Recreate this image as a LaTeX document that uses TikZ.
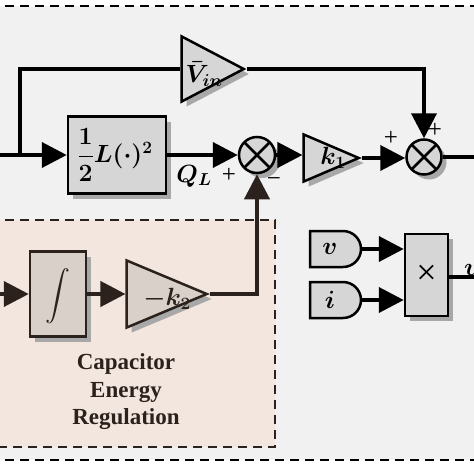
\documentclass[tikz,border=0pt]{standalone}
\usepackage{amsmath}
\usepackage{fontspec}
\setmainfont{Liberation Serif}
\usetikzlibrary{shapes.geometric,arrows.meta,shadows,calc}
\definecolor{bgg}{HTML}{F1F1F1}
\definecolor{peach}{HTML}{F3E6DE}
\definecolor{blkf}{HTML}{D6D6D6}
\definecolor{blkb}{HTML}{D9D0CA}
\definecolor{brn}{HTML}{2B221D}
\definecolor{shd}{HTML}{A8A8A8}
\begin{document}
\begin{tikzpicture}[x=1pt,y=-1pt,
  conn/.style={line width=4pt,-{Triangle[length=25pt,width=25pt]}},
  wire/.style={line width=4pt},
  shad/.style={drop shadow={shadow xshift=5pt,shadow yshift=-5pt,fill=shd,opacity=1}},
  blockbox/.style={draw,line width=2.5pt,fill=blkf,inner sep=0pt,shad},
  tri/.style={isosceles triangle,isosceles triangle stretches,draw,line width=2.5pt,fill=blkf,inner sep=0pt,anchor=apex,shad},
  summer/.style={circle,draw,line width=2.5pt,fill=blkf,minimum size=36pt,inner sep=0pt,shad,
    path picture={\draw[line width=2.5pt] (path picture bounding box.north west) -- (path picture bounding box.south east)
      (path picture bounding box.north east) -- (path picture bounding box.south west);}},
  lab/.style={inner sep=0pt,font=\fontsize{24}{26}\selectfont\boldmath},
  sgn/.style={inner sep=0pt,font=\fontsize{25}{27}\selectfont},
  dash border/.style={line width=2pt,dash pattern=on 9pt off 6pt}
]
\useasboundingbox (0,0) rectangle (474,474);
% backgrounds
\fill[bgg] (-10,6) rectangle (484,460);
\draw[dash border,black] (-10,6) -- (484,6);
\draw[dash border,black] (-10,460) -- (484,460);
\fill[peach] (-10,220) rectangle (275,447);
\draw[dash border,brn] (-10,220) -- (275,220) -- (275,447) -- (-10,447);

% top blocks
\node[blockbox,minimum width=98pt,minimum height=77pt] (sq) at (117,155) {};
\node[lab,font=\fontsize{25}{28}\selectfont\boldmath] (sqlab) at (115,155) {$\dfrac{1}{2}L(\cdot)^2$};
\node[tri,minimum width=65pt,minimum height=62pt] (vin) at (247,69) {};
\node[lab] (vinlab) at (204,74) {$\bar{V}_{in}$};
\node[summer] (s1) at (257,155) {};
\node[tri,minimum width=47pt,minimum height=55pt] (k1) at (362,158) {};
\node[lab] (k1lab) at (333,158) {$k_1$};
\node[summer,minimum size=35pt] (s2) at (424,157) {};

\coordinate (in) at (-10,155);
\coordinate (jn) at (20,155);
\coordinate (out) at (484,157);

\draw[wire] (jn) |- (vin.west);
\draw[conn] (in) -- (sq.west);
\draw[conn] (sq.east) -- (s1.west);
\draw[conn] (s1.east) -- (k1.west |- s1.east);
\draw[conn] (k1.apex) -- (s2.west |- k1.apex);
\draw[conn] (vin.apex) -| (s2.north);
\draw[wire] (s2.east) -- (out);

\node[lab] (ql) at (194,176) {$Q_L$};
\node[sgn] (p1) at (229,175) {+};
\node[sgn] (m1) at (274,182) {−};
\node[sgn] (p2) at (391,138) {+};
\node[sgn] (p3) at (435,130) {+};

% capacitor energy regulation
\node[blockbox,draw=brn,fill=blkb,minimum width=56pt,minimum height=85pt] (int) at (58,294) {};
\node[inner sep=0pt,text=brn,font=\fontsize{24}{26}\selectfont\boldmath] (intlab) at (58,296) {$\displaystyle\int$};
\node[tri,draw=brn,fill=blkb,minimum width=67pt,minimum height=80pt] (k2) at (210,294) {};
\node[lab,text=brn,font=\fontsize{27}{29}\selectfont\boldmath] (k2lab) at (167,299) {$-k_2$};
\coordinate (cin) at (-10,294);
\draw[conn,brn] (cin) -- (int.west);
\draw[conn,brn] (int.east) -- (k2.west);
\draw[conn,brn] (k2.apex) -| (s1.south);
\node[align=center,text=brn,font=\fontsize{23}{27.5}\selectfont\bfseries] (cer) at (126,392) {Capacitor\\Energy\\Regulation};

% v, i multiplier
\draw[line width=2.5pt,fill=blkf] (310,231) -- (343,231) arc[start angle=90,end angle=-90,radius=18pt] -- (310,267) -- cycle;
\node[lab,font=\fontsize{25}{26}\selectfont\boldmath] (vlab) at (330,249) {$v$};
\coordinate (vout) at (361,249);
\draw[line width=2.5pt,fill=blkf] (310,282) -- (343,282) arc[start angle=90,end angle=-90,radius=18pt] -- (310,318) -- cycle;
\node[lab,font=\fontsize{25}{26}\selectfont\boldmath] (ilab) at (330,300) {$i$};
\coordinate (iout) at (361,300);
\node[blockbox,minimum width=43pt,minimum height=82pt,font=\fontsize{36}{38}\selectfont] (mul) at (426.5,275) {×};
\draw[conn] (vout) -- (mul.west |- vout);
\draw[conn] (iout) -- (mul.west |- iout);
\coordinate (mout) at (484,277);
\draw[wire] (mul.east |- mout) -- (mout);
\node[lab,anchor=south west,font=\fontsize{25}{26}\selectfont\boldmath] (plab) at (464,276) {$v$};
\end{tikzpicture}
\end{document}
